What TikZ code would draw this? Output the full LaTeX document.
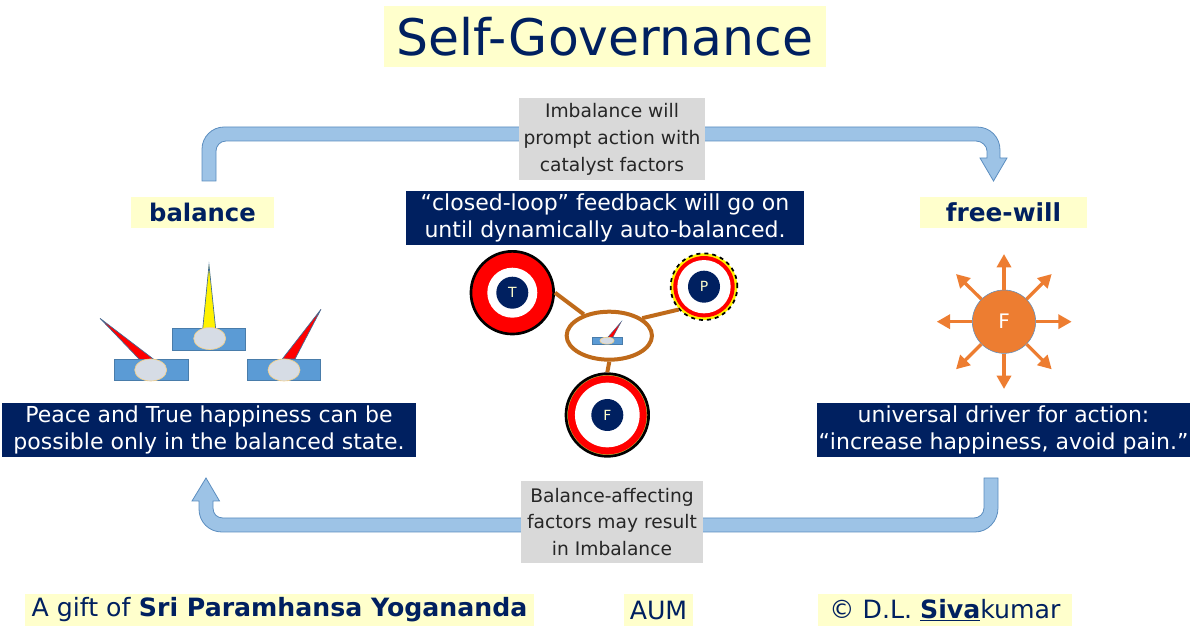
\documentclass[tikz,border=0pt]{standalone}
\usepackage{fontspec}
\setmainfont{DejaVu Sans}
\usetikzlibrary{arrows.meta}
\definecolor{navyfill}{HTML}{002060}
\definecolor{paleyellow}{HTML}{FFFFCC}
\definecolor{paleblue}{HTML}{9DC3E6}
\definecolor{edgeblue}{HTML}{5B8DBF}
\definecolor{barblue}{HTML}{5B9BD5}
\definecolor{knobgray}{HTML}{D6DCE5}
\definecolor{knobedge}{HTML}{F4D08A}
\definecolor{linkbrown}{HTML}{BF6A1A}
\definecolor{sunorange}{HTML}{ED7D31}
\definecolor{notegray}{HTML}{D9D9D9}
\tikzset{
  bigarrow/.style={fill=paleblue,draw=edgeblue,line width=0.6pt},
  tagbox/.style={fill=paleyellow,text=navyfill,inner sep=0pt,align=center},
  navybox/.style={fill=navyfill,text=white,inner sep=0pt,align=center,font=\fontsize{16.5}{20.2}\selectfont},
  notebox/.style={fill=notegray,text=black!85,inner sep=0pt,align=center,font=\fontsize{14}{20.2}\selectfont},
  bar/.style={fill=barblue,draw=barblue!80!black,line width=0.4pt},
  knob/.style={ellipse,fill=knobgray,draw=knobedge,line width=0.5pt,inner sep=0pt},
  needle/.style={draw=barblue!70!black,line width=0.5pt},
  ring/.style={circle,inner sep=0pt},
  core/.style={circle,fill=navyfill,text=paleyellow,inner sep=0pt,minimum size=24pt,font=\fontsize{10.5}{12}\selectfont},
  link/.style={draw=linkbrown,line width=3pt},
  sunray/.style={draw=sunorange,line width=2.5pt,-{Triangle[length=10pt,width=10.5pt]}},
}
\usetikzlibrary{shapes.geometric}
\begin{document}
\begin{tikzpicture}[x=0.75pt,y=0.75pt,yscale=-1,xscale=1]
\useasboundingbox (0,0) rectangle (1200,630);

%Top bent arrow
\draw [bigarrow] (202,181) -- (202,149) .. controls (202,137) and (212,127) .. (224,127) -- (977,127) .. controls (990,127) and (1000,137) .. (1000,150) -- (1000,158) -- (1007,158) -- (993.5,181) -- (980,158) -- (987,158) -- (987,151) .. controls (987,146) and (982,141) .. (976,141) -- (226,141) .. controls (220,141) and (216,146) .. (216,151) -- (216,181) -- cycle ;
%Bottom bent arrow
\draw [bigarrow] (984,478) -- (984,508) .. controls (984,514) and (979,518) .. (974,518) -- (223,518) .. controls (217,518) and (213,514) .. (213,508) -- (213,501) -- (219.5,501) -- (206,478) -- (192,501) -- (199,501) -- (199,509) .. controls (199,522) and (209,532) .. (222,532) -- (975,532) .. controls (988,532) and (998,521) .. (998,508) -- (998,478) -- cycle ;

% Title
\node (title) [tagbox,minimum width=442*0.75pt,minimum height=61*0.75pt,font=\fontsize{37.8}{42}\selectfont] at (605,36.5) {Self-Governance};
% Text Node
\node (imbalance) [notebox,minimum width=186*0.75pt,minimum height=82*0.75pt] at (612,139) {Imbalance will\\prompt action with\\catalyst factors};
% Text Node
\node (affecting) [notebox,minimum width=182*0.75pt,minimum height=82*0.75pt] at (612,522) {Balance-affecting\\factors may result\\in Imbalance};
% Text Node
\node (loop) [navybox,minimum width=398*0.75pt,minimum height=54*0.75pt] at (605,218) {“closed-loop” feedback will go on\\until dynamically auto-balanced.};
% Text Node
\node (balance) [tagbox,minimum width=143*0.75pt,minimum height=31*0.75pt,font=\fontsize{18.2}{20}\selectfont\bfseries] at (202.5,212.5) {balance};
% Text Node
\node (freewill) [tagbox,minimum width=167*0.75pt,minimum height=31*0.75pt,font=\fontsize{18.6}{20}\selectfont\bfseries] at (1003.5,212.5) {free-will};
% Text Node
\node (peace) [navybox,minimum width=414*0.75pt,minimum height=54*0.75pt] at (209,430) {Peace and True happiness can be\\possible only in the balanced state.};
% Text Node
\node (driver) [navybox,minimum width=373*0.75pt,minimum height=54*0.75pt] at (1003.5,430) {universal driver for action:\\“increase happiness, avoid pain.”};
% Text Node
\node (gift) [tagbox,minimum width=509*0.75pt,minimum height=32*0.75pt,font=\fontsize{18.9}{20}\selectfont] at (279.5,610) {A gift of \textbf{Sri Paramhansa Yogananda}};
% Text Node
\node (aum) [tagbox,minimum width=69*0.75pt,minimum height=32*0.75pt,font=\fontsize{18.9}{20}\selectfont] at (658.5,610) {AUM};
% Text Node
\node (copy) [tagbox,minimum width=254*0.75pt,minimum height=32*0.75pt,font=\fontsize{18.9}{20}\selectfont] at (945,610) {© D.L. \textbf{\underline{Siva}}kumar};

%Center gauge
\draw [needle,fill=yellow] (209,265) -- (215.7,329) -- (202.7,329) -- cycle ;
\draw [bar] (172.3,328.7) rectangle (245.7,350) ;
\node (midknob) [knob,minimum width=32*0.75pt,minimum height=22*0.75pt] at (209.7,338.5) {};
%Left gauge
\draw [needle,fill=red] (100,318.3) -- (153.3,359) -- (140,360) -- cycle ;
\draw [bar] (114,359) rectangle (188.5,380) ;
\node (leftknob) [knob,minimum width=32*0.75pt,minimum height=22*0.75pt] at (150.7,370) {};
%Right gauge
\draw [needle,fill=red] (321,309.3) -- (295,359) -- (282.3,359) -- cycle ;
\draw [bar] (247,359) rectangle (320.7,380) ;
\node (rightknob) [knob,minimum width=32*0.75pt,minimum height=22*0.75pt] at (284,370) {};

% Rings
\node (tring) [ring,fill=red,draw=black,line width=2pt,minimum size=62pt] at (512.3,292.7) {};
\node [ring,fill=white,minimum size=37.5pt] at (512.3,292.7) {};
\node (tcore) [core] at (512.3,292.7) {T};

\node (pring) [ring,fill=yellow,draw=black,dashed,line width=1.3pt,minimum size=50pt] at (704,286.7) {};
\node [ring,fill=red,minimum size=46pt] at (704,286.7) {};
\node [ring,fill=white,minimum size=40pt] at (704,286.7) {};
\node (pcore) [core] at (704,286.7) {P};

\node (fring) [ring,fill=yellow!70!black,draw=black,line width=2pt,minimum size=62pt] at (607.3,415) {};
\node [ring,fill=red,minimum size=59pt] at (607.3,415) {};
\node [ring,fill=white,minimum size=48.5pt] at (607.3,415) {};
\node (fcore) [core] at (607.3,415) {F};

%Hub
\node (hub) [ellipse,draw=linkbrown,fill=white,line width=3pt,inner sep=0pt,minimum width=64pt,minimum height=36pt] at (609.3,335.7) {};
\draw [needle,fill=red,line width=0.3pt] (621.3,321.7) -- (613,337) -- (608,337) -- cycle ;
\draw [bar,line width=0.2pt] (592,337) rectangle (622.3,344.3) ;
\node (hubknob) [knob,minimum width=10.5pt,minimum height=5.2pt] at (607,340.7) {};

%Links
\draw [link] (tring.east) -- (hub.140) ;
\draw [link] (pring.222) -- (hub.28) ;
\draw [link] (fring.north) -- (hub.south) ;

%Free-will sun
\node (sun) [circle,fill=sunorange,draw=edgeblue,line width=0.4pt,inner sep=0pt,minimum size=47.5pt,text=white,font=\fontsize{15}{17}\selectfont] at (1004,321.7) {F};
\coordinate (rayn) at (1004,254);
\coordinate (rayne) at (1051.7,274);
\coordinate (raye) at (1071.7,321.7);
\coordinate (rayse) at (1051.7,369.3);
\coordinate (rays) at (1004,389);
\coordinate (raysw) at (956,369.3);
\coordinate (rayw) at (936.7,321.7);
\coordinate (raynw) at (956,274);
\draw [sunray] (sun) -- (rayn) ;
\draw [sunray] (sun) -- (rayne) ;
\draw [sunray] (sun) -- (raye) ;
\draw [sunray] (sun) -- (rayse) ;
\draw [sunray] (sun) -- (rays) ;
\draw [sunray] (sun) -- (raysw) ;
\draw [sunray] (sun) -- (rayw) ;
\draw [sunray] (sun) -- (raynw) ;

\end{tikzpicture}
\end{document}
